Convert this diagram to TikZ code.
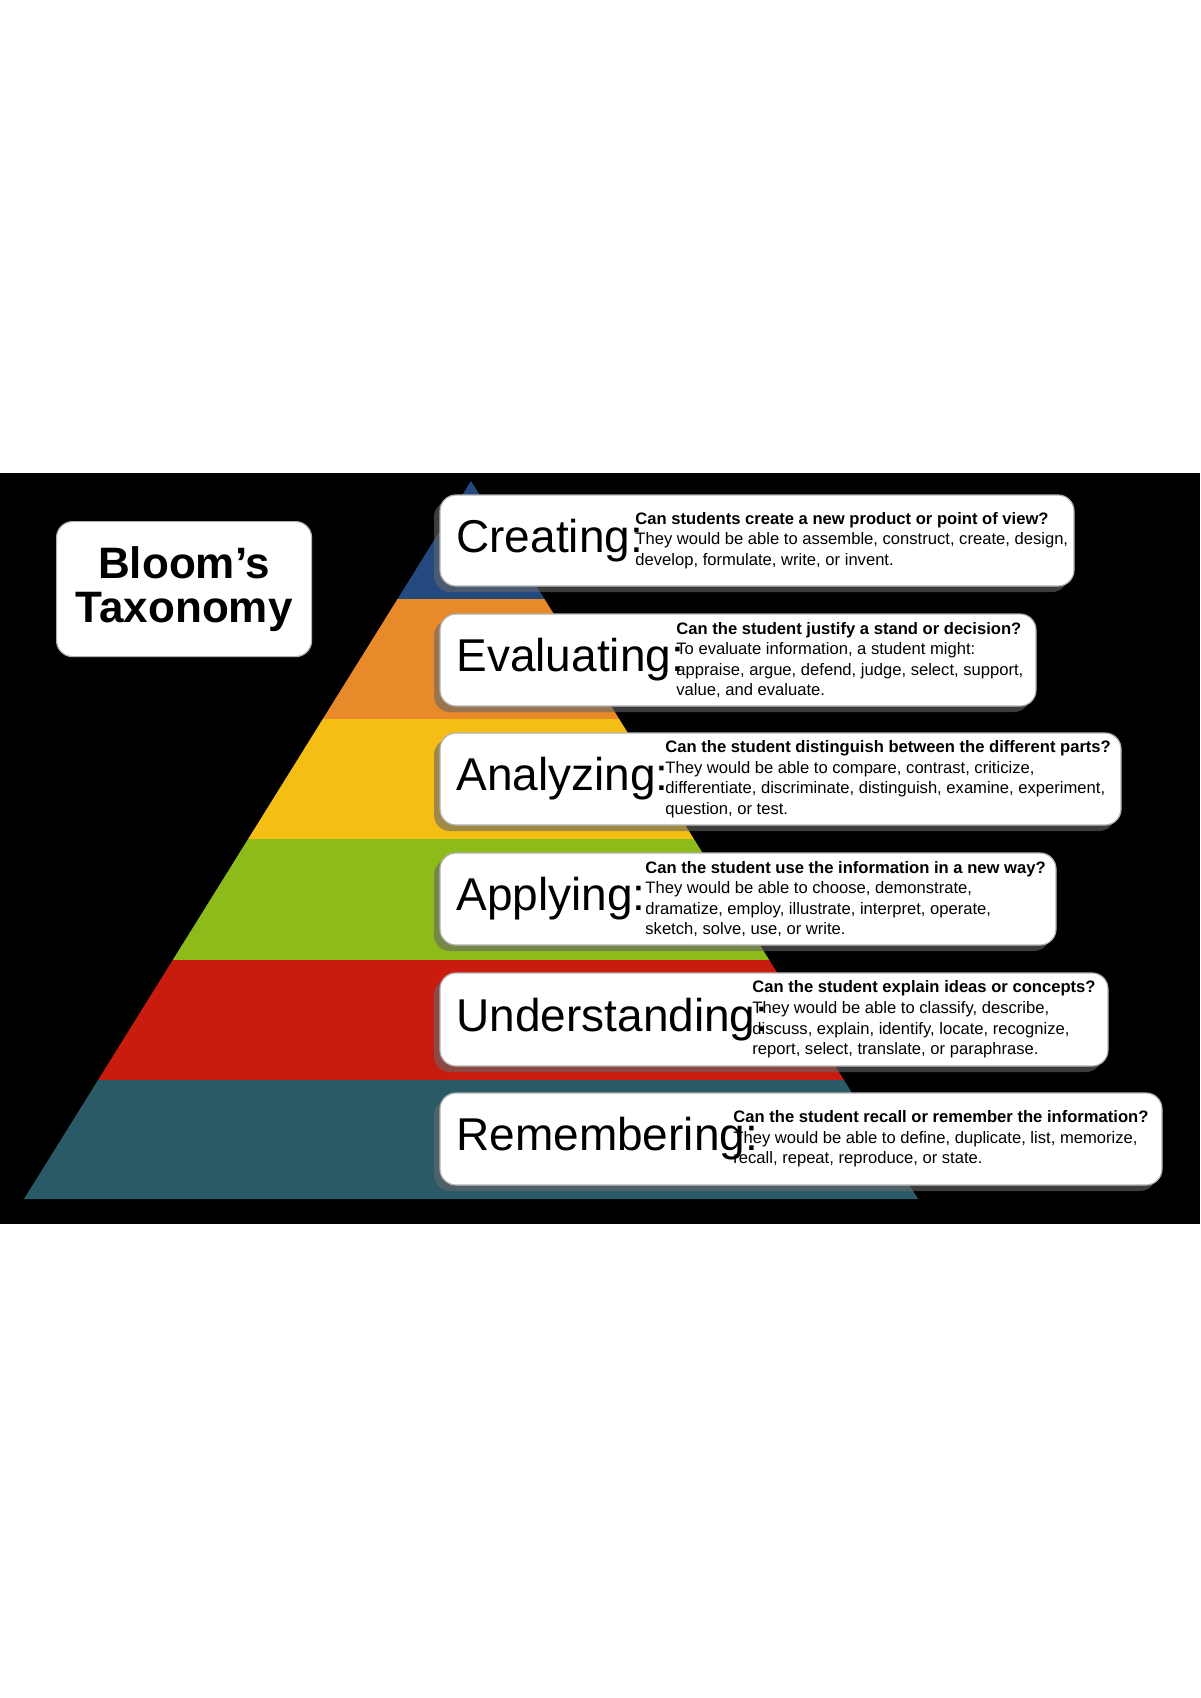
\documentclass[tikz,border=0pt]{standalone}
\usepackage{fontspec}
\setmainfont{Liberation Sans}
\begin{document}
\begin{tikzpicture}[x={(0.5pt,0)},y={(0,-0.5pt)},
  lbl/.style={anchor=west,font=\fontsize{23}{26}\selectfont,inner sep=0},
  desc/.style={anchor=west,font=\fontsize{8.3}{10.3}\selectfont,align=left,inner sep=0},
  wbox/.style={fill=white,draw=gray!60,line width=0.6pt,rounded corners=8pt}]
\useasboundingbox (0,0) rectangle (1200,1698);
\fill[white] (0,0) rectangle (1200,1698);
\fill[black] (0,473) rectangle (1200,1224);
\definecolor{c1}{HTML}{24497F}
\definecolor{c2}{HTML}{E8892A}
\definecolor{c3}{HTML}{F5BE15}
\definecolor{c4}{HTML}{8DBB1A}
\definecolor{c5}{HTML}{C91B0E}
\definecolor{c6}{HTML}{2B5A67}
% pyramid bands
\def\band#1#2#3{%
  \pgfmathsetmacro\la{471-0.6226*(#1-481)}\pgfmathsetmacro\ra{471+0.6226*(#1-481)}%
  \pgfmathsetmacro\lb{471-0.6226*(#2-481)}\pgfmathsetmacro\rb{471+0.6226*(#2-481)}%
  \fill[#3] (\la,#1) -- (\ra,#1) -- (\rb,#2) -- (\lb,#2) -- cycle;}
\band{481}{599}{c1}
\band{599}{719}{c2}
\band{719}{839}{c3}
\band{839}{960}{c4}
\band{960}{1080}{c5}
\band{1080}{1199}{c6}
% title
\node[wbox,minimum width=127.5pt,minimum height=67.5pt,anchor=north west,inner sep=0] (title) at (56,521) {};
\node[align=center,font=\fontsize{22}{22}\selectfont\bfseries] (titletext) at (title.center) {Bloom's\\Taxonomy};
% levels
\def\level#1#2#3#4#5#6#7{%
  \fill[black!60,opacity=0.6,rounded corners=8pt] (434,#2+6) rectangle (#3-6,#4+6);
  \draw[wbox] (440,#2) rectangle (#3,#4);
  \node[lbl] (#1L) at (456,{(#2+#4)/2}) {#5};
  \node[desc] (#1D) at (#6,{(#2+#4)/2}) {#7};}
\level{cre}{495}{1074}{586}{Creating:}{635}{\textbf{Can students create a new product or point of view?}\\They would be able to assemble, construct, create, design,\\develop, formulate, write, or invent.}
\level{eva}{614}{1036}{706}{Evaluating:}{676}{\textbf{Can the student justify a stand or decision?}\\To evaluate information, a student might:\\appraise, argue, defend, judge, select, support,\\value, and evaluate.}
\level{ana}{733}{1121}{825}{Analyzing:}{665}{\textbf{Can the student distinguish between the different parts?}\\They would be able to compare, contrast, criticize,\\differentiate, discriminate, distinguish, examine, experiment,\\question, or test.}
\level{app}{853}{1056}{945}{Applying:}{645}{\textbf{Can the student use the information in a new way?}\\They would be able to choose, demonstrate,\\dramatize, employ, illustrate, interpret, operate,\\sketch, solve, use, or write.}
\level{und}{973}{1108}{1066}{Understanding:}{752}{\textbf{Can the student explain ideas or concepts?}\\They would be able to classify, describe,\\discuss, explain, identify, locate, recognize,\\report, select, translate, or paraphrase.}
\level{rem}{1093}{1162}{1185}{Remembering:}{733}{\textbf{Can the student recall or remember the information?}\\They would be able to define, duplicate, list, memorize,\\recall, repeat, reproduce, or state.}
\end{tikzpicture}
\end{document}
